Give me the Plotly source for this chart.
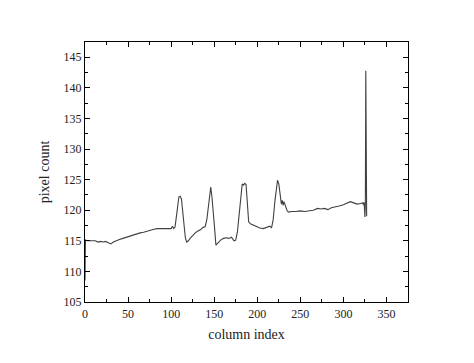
import plotly.graph_objects as go

col_index = [0, 0.5, 1, 3, 6, 9, 12, 15, 18, 21, 24, 27, 30, 33, 36, 40, 44, 48, 52, 56, 60, 64, 68, 72, 76, 80, 84, 88,
             92, 96, 100, 101.5, 103, 104.5, 106, 107.5, 109, 110.5, 112, 113.5, 115, 116.5, 118, 120, 122, 125, 128, 131,
             134, 137, 139.5, 141.5, 143, 144.5, 146, 147.5, 149, 150.5, 152, 153.5, 155, 158, 161, 164, 167, 170, 173,
             175, 177, 179, 181, 182.5, 184, 185.5, 187, 188.5, 190, 192, 195, 199, 203, 207, 211, 214.6, 216.6, 218.5,
             220.5, 222, 223.5, 225, 226.5, 228, 229, 230, 231, 232, 233, 234.5, 236, 240, 245, 250, 255, 260, 265, 270,
             274, 278, 282, 286, 290, 295, 300, 304, 308, 312, 316, 320, 322, 323, 324, 325, 325.5, 326, 326.5, 327]
pixel_count = [108.5, 115.2, 115.1, 115.0, 115.0, 114.9, 115.0, 114.8, 114.9, 114.8, 114.9, 114.7, 114.5, 114.8, 115.0, 115.2, 115.4, 115.6, 115.7, 115.9, 116.1, 116.3, 116.4, 116.6, 116.8, 116.9, 117.0, 117.0,
               117.1, 117.0, 117.0, 117.4, 117.0, 117.2, 118.5, 120.5, 122.2, 122.3, 121.8, 119.5, 117.2, 115.5, 114.8, 115.0, 115.4, 115.9, 116.3, 116.6,
               116.8, 117.2, 117.3, 118.5, 120.5, 122.8, 123.8, 122.0, 120.0, 117.0, 114.3, 114.5, 114.8, 115.2, 115.4, 115.5, 115.4, 115.6, 115.0,
               115.1, 116.5, 119.5, 122.5, 124.3, 124.1, 124.4, 124.2, 121.1, 118.1, 117.8, 117.6, 117.3, 117.1, 117.0, 117.2, 117.4, 117.1, 118.5,
               121.5, 123.8, 124.9, 124.3, 122.5, 121.0, 121.6, 120.8, 121.4, 120.9, 120.4, 120.0, 119.7, 119.8, 119.8, 119.9, 119.8, 119.9, 120.0, 120.3,
               120.2, 120.3, 120.1, 120.4, 120.5, 120.7, 120.9, 121.2, 121.4, 121.2, 121.0, 121.1, 121.2, 121.0, 121.3, 118.9, 121.0, 142.8, 125.0, 119.0, 118.9]

fig = go.Figure()
fig.add_trace(go.Scatter(x=col_index, y=pixel_count, mode="lines",
                         line=dict(color="#404040", width=1.1), showlegend=False))

axis_common = dict(
    showline=True, linecolor="black", linewidth=1.3, mirror="ticks",
    ticks="inside", ticklen=5, tickwidth=1, tickcolor="black",
    showgrid=False, zeroline=False,
    tickfont=dict(family="Liberation Serif", size=12, color="#222"),
)

fig.update_xaxes(range=[0, 375], dtick=50, tick0=0,
                 title=dict(text="column index", font=dict(family="Liberation Serif", size=14, color="#222"), standoff=9),
                 minor=dict(dtick=25, ticks="inside", ticklen=3, tickcolor="black", tickwidth=1),
                 **axis_common)
fig.update_yaxes(range=[105, 147.5], dtick=5, tick0=105,
                 title=dict(text="pixel count", font=dict(family="Liberation Serif", size=14, color="#222"), standoff=10),
                 minor=dict(dtick=2.5, ticks="inside", ticklen=3, tickcolor="black", tickwidth=1),
                 **axis_common)

fig.update_layout(width=474, height=363, margin=dict(l=85, r=66, t=42, b=61),
                  plot_bgcolor="white", paper_bgcolor="white")

fig.write_html("out.html")
